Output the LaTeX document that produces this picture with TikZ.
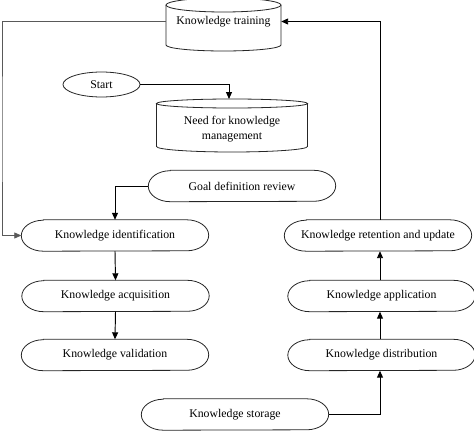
\documentclass[tikz,border=0pt]{standalone}
\usepackage{fontspec}
\setmainfont{Liberation Serif}
\usetikzlibrary{shapes.geometric,arrows.meta}
\begin{document}
\begin{tikzpicture}[x=1pt,y=1pt,
  every node/.style={font=\fontsize{11.8}{15}\selectfont},
  outline/.style={draw=black!85, line width=0.8pt},
  stad/.style={rectangle, draw=none, minimum width=187pt, minimum height=31pt, inner sep=0pt},
  conn/.style={draw=black, line width=0.95pt, -{Triangle[length=7pt,width=6pt]}},
  thinconn/.style={draw=black!65, line width=0.8pt, -{Triangle[length=7pt,width=6pt]}},
]
\useasboundingbox (0,-431) rectangle (474,0);
\clip (0,-431) rectangle (474,0);
% cylinders
\draw[outline, fill=white] (166,-5) -- (166,-45) arc[start angle=180,end angle=360,x radius=57.5,y radius=6] -- (281,-5);
\draw[outline] (223.5,-5) ellipse[x radius=57.5,y radius=7];
\node[rectangle, minimum width=115pt, inner sep=0pt] (kt) at (223.5,-21.5) {Knowledge training};

\draw[outline] (156.5,-103.5) -- (156.5,-146.5) arc[start angle=180,end angle=360,x radius=75.5,y radius=5.5] -- (307.5,-103.5);
\draw[outline] (232,-103.5) ellipse[x radius=75.5,y radius=4.5];
\node[align=center] (need) at (232,-129.5) {Need for knowledge\\management};
\coordinate (needtop) at (229,-99);

% start
\node[ellipse, outline, minimum width=77pt, minimum height=25pt, inner sep=0pt] (start) at (101.5,-84.5) {Start};

% stadium nodes
\node[stad] (goal) at (242,-186) {Goal definition review};
\node[stad] (ki) at (115,-235.5) {Knowledge identification};
\node[stad] (ka) at (115.5,-296) {Knowledge acquisition};
\node[stad] (kv) at (115,-355) {Knowledge validation};
\node[stad] (kr) at (378,-235.5) {Knowledge retention and update};
\node[stad] (kap) at (381.5,-296) {Knowledge application};
\node[stad] (kd) at (381.5,-355) {Knowledge distribution};
\node[stad] (ks) at (235,-414.5) {Knowledge storage};
\foreach \n in {goal,ki,ka,kv,kr,kap,kd,ks}{
  \draw[outline] ([xshift=22pt]\n.north west) -- ([xshift=-22pt]\n.north east)
    arc[start angle=90,end angle=-90,x radius=22pt,y radius=15.5pt]
    -- ([xshift=22pt]\n.south west)
    arc[start angle=270,end angle=90,x radius=22pt,y radius=15.5pt] -- cycle;
}

% connectors
\coordinate (lc) at (2,-130);
\coordinate (rc) at (380,-130);
\draw[thinconn] (kt.west) -| (lc) |- (ki.west);
\draw[conn] (start.east) -| (needtop);
\draw[conn] (goal.west) -| (ki.north);
\draw[conn] (ki.south) -- (ka.north);
\draw[conn] (ka.south) -- (kv.north);
\draw[conn] (ks.east) -| (rc |- kd.south);
\draw[conn] (rc |- kd.north) -- (rc |- kap.south);
\draw[conn] (rc |- kap.north) -- (rc |- kr.south);
\draw[conn] (rc |- kr.north) |- (kt.east);
\end{tikzpicture}
\end{document}
